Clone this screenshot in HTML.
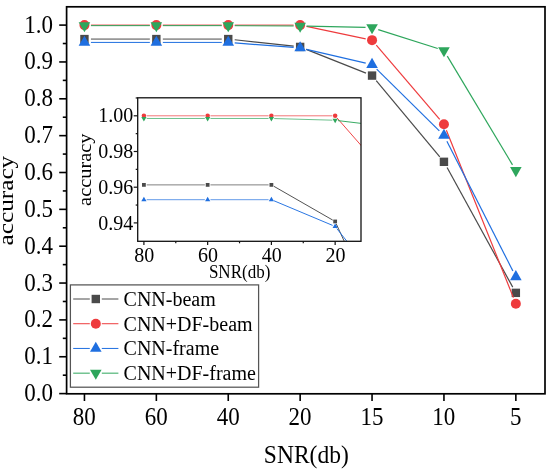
<!DOCTYPE html>
<html><head><meta charset="utf-8"><title>accuracy vs SNR</title>
<style>html,body{margin:0;padding:0;background:#fff}svg{display:block}</style></head>
<body>
<svg width="550" height="471" viewBox="0 0 550 471">
<rect width="550" height="471" fill="#fff"/>
<line x1="90.95" y1="39.07" x2="149.85" y2="39.07" stroke="#4a4a4a" stroke-width="1.0" stroke-opacity="1.0"/>
<line x1="162.85" y1="39.07" x2="221.75" y2="39.07" stroke="#4a4a4a" stroke-width="1.0" stroke-opacity="1.0"/>
<line x1="234.71" y1="39.77" x2="293.69" y2="46.21" stroke="#4a4a4a" stroke-width="1.2" stroke-opacity="1.0"/>
<line x1="306.19" y1="49.32" x2="366.01" y2="73.18" stroke="#4a4a4a" stroke-width="1.2" stroke-opacity="1.0"/>
<line x1="376.21" y1="80.58" x2="439.79" y2="156.82" stroke="#4a4a4a" stroke-width="1.2" stroke-opacity="1.0"/>
<line x1="447.08" y1="167.51" x2="512.72" y2="287.15" stroke="#4a4a4a" stroke-width="1.2" stroke-opacity="1.0"/>
<rect x="80.25" y="34.87" width="8.40" height="8.40" fill="#4a4a4a"/>
<rect x="152.15" y="34.87" width="8.40" height="8.40" fill="#4a4a4a"/>
<rect x="224.05" y="34.87" width="8.40" height="8.40" fill="#4a4a4a"/>
<rect x="295.95" y="42.72" width="8.40" height="8.40" fill="#4a4a4a"/>
<rect x="367.85" y="71.38" width="8.40" height="8.40" fill="#4a4a4a"/>
<rect x="439.75" y="157.61" width="8.40" height="8.40" fill="#4a4a4a"/>
<rect x="511.65" y="288.65" width="8.40" height="8.40" fill="#4a4a4a"/>
<line x1="90.95" y1="25.10" x2="149.85" y2="25.10" stroke="#ee3b3d" stroke-width="1.0" stroke-opacity="1.0"/>
<line x1="162.85" y1="25.10" x2="221.75" y2="25.10" stroke="#ee3b3d" stroke-width="1.0" stroke-opacity="1.0"/>
<line x1="234.75" y1="25.10" x2="293.65" y2="25.10" stroke="#ee3b3d" stroke-width="1.0" stroke-opacity="1.0"/>
<line x1="306.51" y1="26.43" x2="365.69" y2="38.80" stroke="#ee3b3d" stroke-width="1.2" stroke-opacity="1.0"/>
<line x1="376.27" y1="45.08" x2="439.73" y2="119.29" stroke="#ee3b3d" stroke-width="1.2" stroke-opacity="1.0"/>
<line x1="446.37" y1="130.26" x2="513.43" y2="297.65" stroke="#ee3b3d" stroke-width="1.2" stroke-opacity="1.0"/>
<circle cx="84.45" cy="25.10" r="5.00" fill="#ee3b3d"/>
<circle cx="156.35" cy="25.10" r="5.00" fill="#ee3b3d"/>
<circle cx="228.25" cy="25.10" r="5.00" fill="#ee3b3d"/>
<circle cx="300.15" cy="25.10" r="5.00" fill="#ee3b3d"/>
<circle cx="372.05" cy="40.13" r="5.00" fill="#ee3b3d"/>
<circle cx="443.95" cy="124.23" r="5.00" fill="#ee3b3d"/>
<circle cx="515.85" cy="303.69" r="5.00" fill="#ee3b3d"/>
<line x1="90.95" y1="42.42" x2="149.85" y2="42.42" stroke="#1f6fe0" stroke-width="1.0" stroke-opacity="1.0"/>
<line x1="162.85" y1="42.42" x2="221.75" y2="42.42" stroke="#1f6fe0" stroke-width="1.0" stroke-opacity="1.0"/>
<line x1="234.73" y1="42.92" x2="293.67" y2="47.45" stroke="#1f6fe0" stroke-width="1.2" stroke-opacity="1.0"/>
<line x1="306.48" y1="49.41" x2="365.72" y2="63.07" stroke="#1f6fe0" stroke-width="1.2" stroke-opacity="1.0"/>
<line x1="376.68" y1="69.10" x2="439.32" y2="130.94" stroke="#1f6fe0" stroke-width="1.2" stroke-opacity="1.0"/>
<line x1="446.90" y1="141.30" x2="512.90" y2="270.99" stroke="#1f6fe0" stroke-width="1.2" stroke-opacity="1.0"/>
<polygon points="84.45,35.72 78.65,45.77 90.25,45.77" fill="#1f6fe0"/>
<polygon points="156.35,35.72 150.55,45.77 162.15,45.77" fill="#1f6fe0"/>
<polygon points="228.25,35.72 222.45,45.77 234.05,45.77" fill="#1f6fe0"/>
<polygon points="300.15,41.25 294.35,51.30 305.95,51.30" fill="#1f6fe0"/>
<polygon points="372.05,57.83 366.25,67.88 377.85,67.88" fill="#1f6fe0"/>
<polygon points="443.95,128.81 438.15,138.85 449.75,138.85" fill="#1f6fe0"/>
<polygon points="515.85,270.09 510.05,280.13 521.65,280.13" fill="#1f6fe0"/>
<line x1="90.95" y1="25.65" x2="149.85" y2="25.65" stroke="#2ea65c" stroke-width="1.0" stroke-opacity="1.0"/>
<line x1="162.85" y1="25.65" x2="221.75" y2="25.65" stroke="#2ea65c" stroke-width="1.0" stroke-opacity="1.0"/>
<line x1="234.75" y1="25.69" x2="293.65" y2="25.99" stroke="#2ea65c" stroke-width="1.0" stroke-opacity="1.0"/>
<line x1="306.65" y1="26.16" x2="365.55" y2="27.46" stroke="#2ea65c" stroke-width="1.2" stroke-opacity="1.0"/>
<line x1="378.24" y1="29.58" x2="437.76" y2="48.55" stroke="#2ea65c" stroke-width="1.2" stroke-opacity="1.0"/>
<line x1="447.29" y1="56.10" x2="512.51" y2="164.86" stroke="#2ea65c" stroke-width="1.2" stroke-opacity="1.0"/>
<polygon points="84.45,32.35 78.65,22.30 90.25,22.30" fill="#2ea65c"/>
<polygon points="156.35,32.35 150.55,22.30 162.15,22.30" fill="#2ea65c"/>
<polygon points="228.25,32.35 222.45,22.30 234.05,22.30" fill="#2ea65c"/>
<polygon points="300.15,32.72 294.35,22.67 305.95,22.67" fill="#2ea65c"/>
<polygon points="372.05,34.30 366.25,24.26 377.85,24.26" fill="#2ea65c"/>
<polygon points="443.95,57.22 438.15,47.18 449.75,47.18" fill="#2ea65c"/>
<polygon points="515.85,177.13 510.05,167.09 521.65,167.09" fill="#2ea65c"/>
<rect x="66.6" y="6.8" width="478.4" height="387.0" fill="none" stroke="#000" stroke-width="1.7"/>
<line x1="59.199999999999996" y1="393.60" x2="66.6" y2="393.60" stroke="#000" stroke-width="1.6"/>
<text transform="translate(52.90,401.10) scale(1.0,1.07)" text-anchor="end" font-size="23" font-family="'Liberation Serif', 'Times New Roman', serif">0.0</text>
<line x1="62.8" y1="375.18" x2="66.6" y2="375.18" stroke="#000" stroke-width="1.6"/>
<line x1="59.199999999999996" y1="356.75" x2="66.6" y2="356.75" stroke="#000" stroke-width="1.6"/>
<text transform="translate(52.90,364.25) scale(1.0,1.07)" text-anchor="end" font-size="23" font-family="'Liberation Serif', 'Times New Roman', serif">0.1</text>
<line x1="62.8" y1="338.33" x2="66.6" y2="338.33" stroke="#000" stroke-width="1.6"/>
<line x1="59.199999999999996" y1="319.90" x2="66.6" y2="319.90" stroke="#000" stroke-width="1.6"/>
<text transform="translate(52.90,327.40) scale(1.0,1.07)" text-anchor="end" font-size="23" font-family="'Liberation Serif', 'Times New Roman', serif">0.2</text>
<line x1="62.8" y1="301.48" x2="66.6" y2="301.48" stroke="#000" stroke-width="1.6"/>
<line x1="59.199999999999996" y1="283.05" x2="66.6" y2="283.05" stroke="#000" stroke-width="1.6"/>
<text transform="translate(52.90,290.55) scale(1.0,1.07)" text-anchor="end" font-size="23" font-family="'Liberation Serif', 'Times New Roman', serif">0.3</text>
<line x1="62.8" y1="264.62" x2="66.6" y2="264.62" stroke="#000" stroke-width="1.6"/>
<line x1="59.199999999999996" y1="246.20" x2="66.6" y2="246.20" stroke="#000" stroke-width="1.6"/>
<text transform="translate(52.90,253.70) scale(1.0,1.07)" text-anchor="end" font-size="23" font-family="'Liberation Serif', 'Times New Roman', serif">0.4</text>
<line x1="62.8" y1="227.78" x2="66.6" y2="227.78" stroke="#000" stroke-width="1.6"/>
<line x1="59.199999999999996" y1="209.35" x2="66.6" y2="209.35" stroke="#000" stroke-width="1.6"/>
<text transform="translate(52.90,216.85) scale(1.0,1.07)" text-anchor="end" font-size="23" font-family="'Liberation Serif', 'Times New Roman', serif">0.5</text>
<line x1="62.8" y1="190.93" x2="66.6" y2="190.93" stroke="#000" stroke-width="1.6"/>
<line x1="59.199999999999996" y1="172.50" x2="66.6" y2="172.50" stroke="#000" stroke-width="1.6"/>
<text transform="translate(52.90,180.00) scale(1.0,1.07)" text-anchor="end" font-size="23" font-family="'Liberation Serif', 'Times New Roman', serif">0.6</text>
<line x1="62.8" y1="154.08" x2="66.6" y2="154.08" stroke="#000" stroke-width="1.6"/>
<line x1="59.199999999999996" y1="135.65" x2="66.6" y2="135.65" stroke="#000" stroke-width="1.6"/>
<text transform="translate(52.90,143.15) scale(1.0,1.07)" text-anchor="end" font-size="23" font-family="'Liberation Serif', 'Times New Roman', serif">0.7</text>
<line x1="62.8" y1="117.23" x2="66.6" y2="117.23" stroke="#000" stroke-width="1.6"/>
<line x1="59.199999999999996" y1="98.80" x2="66.6" y2="98.80" stroke="#000" stroke-width="1.6"/>
<text transform="translate(52.90,106.30) scale(1.0,1.07)" text-anchor="end" font-size="23" font-family="'Liberation Serif', 'Times New Roman', serif">0.8</text>
<line x1="62.8" y1="80.38" x2="66.6" y2="80.38" stroke="#000" stroke-width="1.6"/>
<line x1="59.199999999999996" y1="61.95" x2="66.6" y2="61.95" stroke="#000" stroke-width="1.6"/>
<text transform="translate(52.90,69.45) scale(1.0,1.07)" text-anchor="end" font-size="23" font-family="'Liberation Serif', 'Times New Roman', serif">0.9</text>
<line x1="62.8" y1="43.52" x2="66.6" y2="43.52" stroke="#000" stroke-width="1.6"/>
<line x1="59.199999999999996" y1="25.10" x2="66.6" y2="25.10" stroke="#000" stroke-width="1.6"/>
<text transform="translate(52.90,32.60) scale(1.0,1.07)" text-anchor="end" font-size="23" font-family="'Liberation Serif', 'Times New Roman', serif">1.0</text>
<line x1="84.45" y1="393.8" x2="84.45" y2="401.0" stroke="#000" stroke-width="1.6"/>
<text transform="translate(84.35,424.60) scale(1.0,1.08)" text-anchor="middle" font-size="23" font-family="'Liberation Serif', 'Times New Roman', serif">80</text>
<line x1="156.35000000000002" y1="393.8" x2="156.35000000000002" y2="401.0" stroke="#000" stroke-width="1.6"/>
<text transform="translate(156.25,424.60) scale(1.0,1.08)" text-anchor="middle" font-size="23" font-family="'Liberation Serif', 'Times New Roman', serif">60</text>
<line x1="228.25" y1="393.8" x2="228.25" y2="401.0" stroke="#000" stroke-width="1.6"/>
<text transform="translate(228.15,424.60) scale(1.0,1.08)" text-anchor="middle" font-size="23" font-family="'Liberation Serif', 'Times New Roman', serif">40</text>
<line x1="300.15000000000003" y1="393.8" x2="300.15000000000003" y2="401.0" stroke="#000" stroke-width="1.6"/>
<text transform="translate(300.05,424.60) scale(1.0,1.08)" text-anchor="middle" font-size="23" font-family="'Liberation Serif', 'Times New Roman', serif">20</text>
<line x1="372.05" y1="393.8" x2="372.05" y2="401.0" stroke="#000" stroke-width="1.6"/>
<text transform="translate(371.95,424.60) scale(1.0,1.08)" text-anchor="middle" font-size="23" font-family="'Liberation Serif', 'Times New Roman', serif">15</text>
<line x1="443.95" y1="393.8" x2="443.95" y2="401.0" stroke="#000" stroke-width="1.6"/>
<text transform="translate(443.85,424.60) scale(1.0,1.08)" text-anchor="middle" font-size="23" font-family="'Liberation Serif', 'Times New Roman', serif">10</text>
<line x1="515.85" y1="393.8" x2="515.85" y2="401.0" stroke="#000" stroke-width="1.6"/>
<text transform="translate(515.75,424.60) scale(1.0,1.08)" text-anchor="middle" font-size="23" font-family="'Liberation Serif', 'Times New Roman', serif">5</text>
<text transform="translate(306.30,463.10) scale(0.98,1.05)" text-anchor="middle" font-size="24" font-family="'Liberation Serif', 'Times New Roman', serif">SNR(db)</text>
<text transform="translate(13.40,200.60) rotate(-90) scale(1.01,0.88)" text-anchor="middle" font-size="25" font-family="'Liberation Serif', 'Times New Roman', serif">accuracy</text>
<rect x="137.7" y="97.8" width="223.3" height="143.5" fill="#fff"/>
<clipPath id="ic"><rect x="137.7" y="97.8" width="223.3" height="143.5"/></clipPath>
<g clip-path="url(#ic)">
<line x1="146.70" y1="184.88" x2="204.85" y2="184.88" stroke="#4a4a4a" stroke-width="0.7" stroke-opacity="1.0"/>
<line x1="210.45" y1="184.88" x2="268.60" y2="184.88" stroke="#4a4a4a" stroke-width="0.7" stroke-opacity="1.0"/>
<line x1="273.83" y1="186.27" x2="332.72" y2="220.08" stroke="#4a4a4a" stroke-width="0.95" stroke-opacity="1.0"/>
<line x1="336.32" y1="224.02" x2="397.73" y2="357.80" stroke="#4a4a4a" stroke-width="0.95" stroke-opacity="1.0"/>
<rect x="142.01" y="182.99" width="3.78" height="3.78" fill="#4a4a4a"/>
<rect x="205.76" y="182.99" width="3.78" height="3.78" fill="#4a4a4a"/>
<rect x="269.51" y="182.99" width="3.78" height="3.78" fill="#4a4a4a"/>
<rect x="333.26" y="219.58" width="3.78" height="3.78" fill="#4a4a4a"/>
<rect x="397.01" y="358.46" width="3.78" height="3.78" fill="#4a4a4a"/>
<line x1="146.70" y1="115.80" x2="204.85" y2="115.80" stroke="#ee3b3d" stroke-width="0.7" stroke-opacity="1.0"/>
<line x1="210.45" y1="115.80" x2="268.60" y2="115.80" stroke="#ee3b3d" stroke-width="0.7" stroke-opacity="1.0"/>
<line x1="274.20" y1="115.80" x2="332.35" y2="115.80" stroke="#ee3b3d" stroke-width="0.7" stroke-opacity="1.0"/>
<line x1="336.99" y1="117.91" x2="397.06" y2="186.52" stroke="#ee3b3d" stroke-width="0.95" stroke-opacity="1.0"/>
<circle cx="143.90" cy="115.80" r="2.25" fill="#ee3b3d"/>
<circle cx="207.65" cy="115.80" r="2.25" fill="#ee3b3d"/>
<circle cx="271.40" cy="115.80" r="2.25" fill="#ee3b3d"/>
<circle cx="335.15" cy="115.80" r="2.25" fill="#ee3b3d"/>
<circle cx="398.90" cy="188.63" r="2.25" fill="#ee3b3d"/>
<line x1="146.70" y1="199.70" x2="204.85" y2="199.70" stroke="#1f6fe0" stroke-width="0.7" stroke-opacity="1.0"/>
<line x1="210.45" y1="199.70" x2="268.60" y2="199.70" stroke="#1f6fe0" stroke-width="0.7" stroke-opacity="1.0"/>
<line x1="273.98" y1="200.78" x2="332.57" y2="225.39" stroke="#1f6fe0" stroke-width="0.95" stroke-opacity="1.0"/>
<line x1="336.89" y1="228.66" x2="397.16" y2="304.60" stroke="#1f6fe0" stroke-width="0.95" stroke-opacity="1.0"/>
<polygon points="143.90,196.68 141.29,201.20 146.51,201.20" fill="#1f6fe0"/>
<polygon points="207.65,196.68 205.04,201.20 210.26,201.20" fill="#1f6fe0"/>
<polygon points="271.40,196.68 268.79,201.20 274.01,201.20" fill="#1f6fe0"/>
<polygon points="335.15,223.46 332.54,227.98 337.76,227.98" fill="#1f6fe0"/>
<polygon points="398.90,303.78 396.29,308.30 401.51,308.30" fill="#1f6fe0"/>
<line x1="146.70" y1="118.48" x2="204.85" y2="118.48" stroke="#2ea65c" stroke-width="0.7" stroke-opacity="1.0"/>
<line x1="210.45" y1="118.48" x2="268.60" y2="118.48" stroke="#2ea65c" stroke-width="0.7" stroke-opacity="1.0"/>
<line x1="274.20" y1="118.56" x2="332.35" y2="120.18" stroke="#2ea65c" stroke-width="0.7" stroke-opacity="1.0"/>
<line x1="337.93" y1="120.60" x2="396.12" y2="127.60" stroke="#2ea65c" stroke-width="0.95" stroke-opacity="1.0"/>
<polygon points="143.90,121.49 141.29,116.97 146.51,116.97" fill="#2ea65c"/>
<polygon points="207.65,121.49 205.04,116.97 210.26,116.97" fill="#2ea65c"/>
<polygon points="271.40,121.49 268.79,116.97 274.01,116.97" fill="#2ea65c"/>
<polygon points="335.15,123.28 332.54,118.76 337.76,118.76" fill="#2ea65c"/>
<polygon points="398.90,130.95 396.29,126.43 401.51,126.43" fill="#2ea65c"/>
</g>
<rect x="137.7" y="97.8" width="223.3" height="143.5" fill="none" stroke="#111" stroke-width="1.3"/>
<line x1="133.7" y1="222.90" x2="137.7" y2="222.90" stroke="#111" stroke-width="1.2"/>
<text transform="translate(133.30,229.50)" text-anchor="end" font-size="20" font-family="'Liberation Serif', 'Times New Roman', serif">0.94</text>
<line x1="135.7" y1="205.05" x2="137.7" y2="205.05" stroke="#111" stroke-width="1.2"/>
<line x1="133.7" y1="187.20" x2="137.7" y2="187.20" stroke="#111" stroke-width="1.2"/>
<text transform="translate(133.30,193.80)" text-anchor="end" font-size="20" font-family="'Liberation Serif', 'Times New Roman', serif">0.96</text>
<line x1="135.7" y1="169.35" x2="137.7" y2="169.35" stroke="#111" stroke-width="1.2"/>
<line x1="133.7" y1="151.50" x2="137.7" y2="151.50" stroke="#111" stroke-width="1.2"/>
<text transform="translate(133.30,158.10)" text-anchor="end" font-size="20" font-family="'Liberation Serif', 'Times New Roman', serif">0.98</text>
<line x1="135.7" y1="133.65" x2="137.7" y2="133.65" stroke="#111" stroke-width="1.2"/>
<line x1="133.7" y1="115.80" x2="137.7" y2="115.80" stroke="#111" stroke-width="1.2"/>
<text transform="translate(133.30,122.40)" text-anchor="end" font-size="20" font-family="'Liberation Serif', 'Times New Roman', serif">1.00</text>
<line x1="135.7" y1="97.95" x2="137.7" y2="97.95" stroke="#111" stroke-width="1.2"/>
<line x1="143.90" y1="241.3" x2="143.90" y2="245.10000000000002" stroke="#111" stroke-width="1.2"/>
<text transform="translate(144.30,262.30) scale(1.0,1.02)" text-anchor="middle" font-size="20" font-family="'Liberation Serif', 'Times New Roman', serif">80</text>
<line x1="175.78" y1="241.3" x2="175.78" y2="243.3" stroke="#111" stroke-width="1.2"/>
<line x1="207.65" y1="241.3" x2="207.65" y2="245.10000000000002" stroke="#111" stroke-width="1.2"/>
<text transform="translate(208.05,262.30) scale(1.0,1.02)" text-anchor="middle" font-size="20" font-family="'Liberation Serif', 'Times New Roman', serif">60</text>
<line x1="239.53" y1="241.3" x2="239.53" y2="243.3" stroke="#111" stroke-width="1.2"/>
<line x1="271.40" y1="241.3" x2="271.40" y2="245.10000000000002" stroke="#111" stroke-width="1.2"/>
<text transform="translate(271.80,262.30) scale(1.0,1.02)" text-anchor="middle" font-size="20" font-family="'Liberation Serif', 'Times New Roman', serif">40</text>
<line x1="303.27" y1="241.3" x2="303.27" y2="243.3" stroke="#111" stroke-width="1.2"/>
<line x1="335.15" y1="241.3" x2="335.15" y2="245.10000000000002" stroke="#111" stroke-width="1.2"/>
<text transform="translate(335.55,262.30) scale(1.0,1.02)" text-anchor="middle" font-size="20" font-family="'Liberation Serif', 'Times New Roman', serif">20</text>
<text transform="translate(239.60,277.90) scale(1.0,1.08)" text-anchor="middle" font-size="17" font-family="'Liberation Serif', 'Times New Roman', serif">SNR(db)</text>
<text transform="translate(91.30,169.70) rotate(-90) scale(1.02,0.97)" text-anchor="middle" font-size="20" font-family="'Liberation Serif', 'Times New Roman', serif">accuracy</text>
<rect x="70.4" y="284.9" width="188.20000000000002" height="102.30000000000001" fill="#fff" stroke="#555" stroke-width="1.25"/>
<line x1="73.20" y1="299.00" x2="89.80" y2="299.00" stroke="#4a4a4a" stroke-width="1.0" stroke-opacity="1.0"/>
<line x1="101.80" y1="299.00" x2="118.4" y2="299.00" stroke="#4a4a4a" stroke-width="1"/>
<rect x="91.60" y="294.80" width="8.40" height="8.40" fill="#4a4a4a"/>
<text transform="translate(123.60,305.90) scale(1.0,1.04)" text-anchor="start" font-size="20" font-family="'Liberation Serif', 'Times New Roman', serif">CNN-beam</text>
<line x1="73.20" y1="323.72" x2="89.80" y2="323.72" stroke="#ee3b3d" stroke-width="1.0" stroke-opacity="1.0"/>
<line x1="101.80" y1="323.72" x2="118.4" y2="323.72" stroke="#ee3b3d" stroke-width="1"/>
<circle cx="95.80" cy="323.72" r="5.00" fill="#ee3b3d"/>
<text transform="translate(123.60,330.62) scale(1.0,1.04)" text-anchor="start" font-size="20" font-family="'Liberation Serif', 'Times New Roman', serif">CNN+DF-beam</text>
<line x1="73.20" y1="348.44" x2="89.80" y2="348.44" stroke="#1f6fe0" stroke-width="1.0" stroke-opacity="1.0"/>
<line x1="101.80" y1="348.44" x2="118.4" y2="348.44" stroke="#1f6fe0" stroke-width="1"/>
<polygon points="95.80,341.74 90.00,351.79 101.60,351.79" fill="#1f6fe0"/>
<text transform="translate(123.60,355.34) scale(1.0,1.04)" text-anchor="start" font-size="20" font-family="'Liberation Serif', 'Times New Roman', serif">CNN-frame</text>
<line x1="73.20" y1="373.16" x2="89.80" y2="373.16" stroke="#2ea65c" stroke-width="1.0" stroke-opacity="1.0"/>
<line x1="101.80" y1="373.16" x2="118.4" y2="373.16" stroke="#2ea65c" stroke-width="1"/>
<polygon points="95.80,379.86 90.00,369.81 101.60,369.81" fill="#2ea65c"/>
<text transform="translate(123.60,380.06) scale(1.0,1.04)" text-anchor="start" font-size="20" font-family="'Liberation Serif', 'Times New Roman', serif">CNN+DF-frame</text>
</svg>
</body></html>
